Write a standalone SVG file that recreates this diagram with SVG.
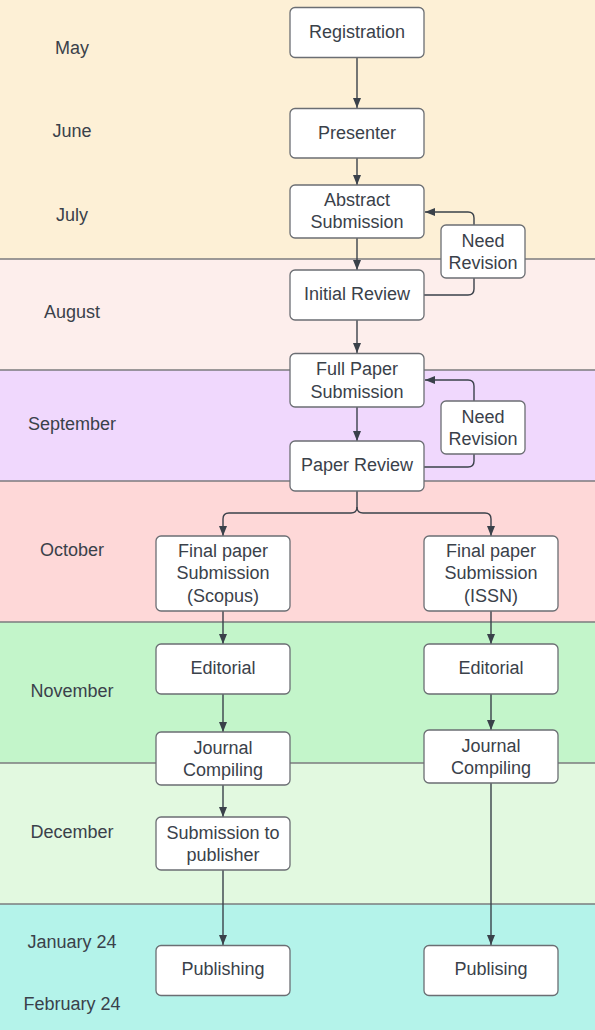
<svg xmlns="http://www.w3.org/2000/svg" width="595" height="1030" viewBox="0 0 595 1030">
<defs>
<style>
.band{stroke:none}
.sep{stroke:#7b7b7e;stroke-width:1.5}
.node rect{fill:#ffffff;stroke:#6b6e73;stroke-width:1.3}
text{font-family:"Liberation Sans",Arial,sans-serif;font-size:18px;fill:#3a414a}
.c{text-anchor:middle}
.conn path{fill:none;stroke:#3a414a;stroke-width:1.4}
</style>
<marker id="arr" markerUnits="userSpaceOnUse" markerWidth="12" markerHeight="12" viewBox="0 0 12 12" refX="11" refY="6" orient="auto">
<path d="M1,2 L11,6 L1,10 Z" fill="#3a414a"/>
</marker>
</defs>
<g id="bands">
<rect class="band" x="0" y="0" width="595" height="259" fill="#fdf0d6"/>
<rect class="band" x="0" y="259" width="595" height="111" fill="#fdeeec"/>
<rect class="band" x="0" y="370" width="595" height="111" fill="#f0d8fd"/>
<rect class="band" x="0" y="481" width="595" height="141" fill="#fed8d8"/>
<rect class="band" x="0" y="622" width="595" height="141" fill="#c3f5ca"/>
<rect class="band" x="0" y="763" width="595" height="141" fill="#e2f9e0"/>
<rect class="band" x="0" y="904" width="595" height="126" fill="#b4f3ea"/>
<line class="sep" x1="0" y1="259" x2="595" y2="259"/>
<line class="sep" x1="0" y1="370" x2="595" y2="370"/>
<line class="sep" x1="0" y1="481" x2="595" y2="481"/>
<line class="sep" x1="0" y1="622" x2="595" y2="622"/>
<line class="sep" x1="0" y1="763" x2="595" y2="763"/>
<line class="sep" x1="0" y1="904" x2="595" y2="904"/>
</g>
<g id="months" class="c">
<text x="72" y="54">May</text>
<text x="72" y="137">June</text>
<text x="72" y="221">July</text>
<text x="72" y="318">August</text>
<text x="72" y="430">September</text>
<text x="72" y="556">October</text>
<text x="72" y="697">November</text>
<text x="72" y="838">December</text>
<text x="72" y="948">January 24</text>
<text x="72" y="1010">February 24</text>
</g>
<g id="connectors" class="conn">
<path d="M357,58 V108" marker-end="url(#arr)"/>
<path d="M357,158 V185" marker-end="url(#arr)"/>
<path d="M357,238 V270" marker-end="url(#arr)"/>
<path d="M424,295 H468 Q474,295 474,289 V218 Q474,212 468,212 H425" marker-end="url(#arr)"/>
<path d="M357,320 V353" marker-end="url(#arr)"/>
<path d="M357,407 V441" marker-end="url(#arr)"/>
<path d="M424,467 H468 Q474,467 474,461 V386 Q474,380 468,380 H425" marker-end="url(#arr)"/>
<path d="M357,491 V507 Q357,513 351,513 H229 Q223,513 223,519 V536" marker-end="url(#arr)"/>
<path d="M357,507 Q357,513 363,513 H485 Q491,513 491,519 V536" marker-end="url(#arr)"/>
<path d="M223,611 V644" marker-end="url(#arr)"/>
<path d="M491,611 V644" marker-end="url(#arr)"/>
<path d="M223,694 V732" marker-end="url(#arr)"/>
<path d="M491,694 V730" marker-end="url(#arr)"/>
<path d="M223,785 V817" marker-end="url(#arr)"/>
<path d="M223,870 V945" marker-end="url(#arr)"/>
<path d="M491,783 V945" marker-end="url(#arr)"/>
</g>
<g id="registration" class="node"><rect x="290" y="7.5" width="134" height="50" rx="5"/><text class="c" x="357" y="38">Registration</text></g>
<g id="presenter" class="node"><rect x="290" y="108.5" width="134" height="49.5" rx="5"/><text class="c" x="357" y="139">Presenter</text></g>
<g id="abstract" class="node"><rect x="290" y="185" width="134" height="53" rx="5"/><text class="c" x="357" y="206">Abstract</text><text class="c" x="357" y="228">Submission</text></g>
<g id="need1" class="node"><rect x="441" y="225" width="84" height="53" rx="5"/><text class="c" x="483" y="247">Need</text><text class="c" x="483" y="269">Revision</text></g>
<g id="initial" class="node"><rect x="290" y="270" width="134" height="50" rx="5"/><text class="c" x="357" y="300">Initial Review</text></g>
<g id="fullpaper" class="node"><rect x="290" y="353.5" width="134" height="53.5" rx="5"/><text class="c" x="357" y="375">Full Paper</text><text class="c" x="357" y="398">Submission</text></g>
<g id="need2" class="node"><rect x="441" y="401" width="84" height="53" rx="5"/><text class="c" x="483" y="423">Need</text><text class="c" x="483" y="445">Revision</text></g>
<g id="paperreview" class="node"><rect x="290" y="441" width="134" height="50" rx="5"/><text class="c" x="357" y="471">Paper Review</text></g>
<g id="finalscopus" class="node"><rect x="156" y="536" width="134" height="75" rx="5"/><text class="c" x="223" y="557">Final paper</text><text class="c" x="223" y="579">Submission</text><text class="c" x="223" y="602">(Scopus)</text></g>
<g id="finalissn" class="node"><rect x="424" y="536" width="134" height="75" rx="5"/><text class="c" x="491" y="557">Final paper</text><text class="c" x="491" y="579">Submission</text><text class="c" x="491" y="602">(ISSN)</text></g>
<g id="editorial1" class="node"><rect x="156" y="644" width="134" height="50" rx="5"/><text class="c" x="223" y="674">Editorial</text></g>
<g id="editorial2" class="node"><rect x="424" y="644" width="134" height="50" rx="5"/><text class="c" x="491" y="674">Editorial</text></g>
<g id="journal1" class="node"><rect x="156" y="732" width="134" height="53" rx="5"/><text class="c" x="223" y="754">Journal</text><text class="c" x="223" y="776">Compiling</text></g>
<g id="journal2" class="node"><rect x="424" y="730" width="134" height="53" rx="5"/><text class="c" x="491" y="752">Journal</text><text class="c" x="491" y="774">Compiling</text></g>
<g id="subpub" class="node"><rect x="156" y="817" width="134" height="53" rx="5"/><text class="c" x="223" y="839">Submission to</text><text class="c" x="223" y="861">publisher</text></g>
<g id="publishing1" class="node"><rect x="156" y="945.5" width="134" height="50" rx="5"/><text class="c" x="223" y="975">Publishing</text></g>
<g id="publishing2" class="node"><rect x="424" y="945.5" width="134" height="50" rx="5"/><text class="c" x="491" y="975">Publising</text></g>
</svg>
